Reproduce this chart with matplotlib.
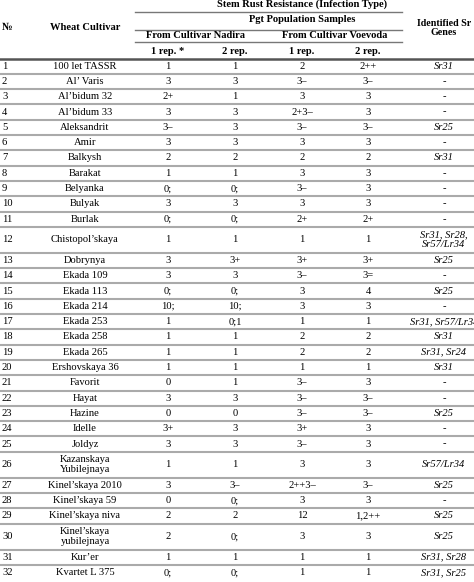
import matplotlib
matplotlib.use("Agg")
import matplotlib.pyplot as plt

nums = list(range(1, 33))
cultivars = ["100 let TASSR", "Al’ Varis", "Al’bidum 32", "Al’bidum 33", "Aleksandrit", "Amir",
             "Balkysh", "Barakat", "Belyanka", "Bulyak", "Burlak", "Chistopol’skaya", "Dobrynya",
             "Ekada 109", "Ekada 113", "Ekada 214", "Ekada 253", "Ekada 258", "Ekada 265",
             "Ershovskaya 36", "Favorit", "Hayat", "Hazine", "Idelle", "Joldyz",
             "Kazanskaya\nYubilejnaya", "Kinel’skaya 2010", "Kinel’skaya 59", "Kinel’skaya niva",
             "Kinel’skaya\nyubilejnaya", "Kur’er", "Kvartet L 375"]
nadira1 = ["1", "3", "2+", "3", "3–", "3", "2", "1", "0;", "3", "0;", "1", "3", "3", "0;", "10;",
           "1", "1", "1", "1", "0", "3", "0", "3+", "3", "1", "3", "0", "2", "2", "1", "0;"]
nadira2 = ["1", "3", "1", "3", "3", "3", "2", "1", "0;", "3", "0;", "1", "3+", "3", "0;", "10;",
           "0;1", "1", "1", "1", "1", "3", "0", "3", "3", "1", "3–", "0;", "2", "0;", "1", "0;"]
voev1 = ["2", "3–", "3", "2+3–", "3–", "3", "2", "3", "3–", "3", "2+", "1", "3+", "3–", "3", "3",
         "1", "2", "2", "1", "3–", "3–", "3–", "3+", "3–", "3", "2++3–", "3", "12", "3", "1", "1"]
voev2 = ["2++", "3–", "3", "3", "3–", "3", "2", "3", "3", "3", "2+", "1", "3+", "3=", "4", "3",
         "1", "2", "2", "1", "3", "3–", "3–", "3", "3", "3", "3–", "3", "1,2++", "3", "1", "1"]
genes = ["Sr31", "-", "-", "-", "Sr25", "-", "Sr31", "-", "-", "-", "-", "Sr31, Sr28,\nSr57/Lr34",
         "Sr25", "-", "Sr25", "-", "Sr31, Sr57/Lr34", "Sr31", "Sr31, Sr24", "Sr31", "-", "-",
         "Sr25", "-", "-", "Sr57/Lr34", "Sr25", "-", "Sr25", "Sr25", "Sr31, Sr28", "Sr31, Sr25"]

W, H = 474, 582
fig = plt.figure(figsize=(W / 100, H / 100), dpi=100)
ax = fig.add_axes([0, 0, 1, 1])
ax.set_xlim(0, W)
ax.set_ylim(H, 0)
ax.axis("off")

fam = ["Liberation Serif", "DejaVu Serif"]
fs = 7.6
xc = [5, 85, 168, 235, 302, 368, 444]

def t(x, y, s, ha="center", bold=False, italic=False, size=fs):
    ax.text(x, y, s, ha=ha, va="center", family=fam, fontsize=size,
            fontweight="bold" if bold else "normal",
            fontstyle="italic" if italic else "normal", linespacing=1.1)

# header
t(302, 4, "Stem Rust Resistance (Infection Type)", bold=True)
ax.plot([135, 402], [12, 12], color="#777", lw=1)
t(302, 19, "Pgt Population Samples", bold=True)
ax.plot([135, 402], [30, 30], color="#777", lw=1)
t(196, 35, "From Cultivar Nadira", bold=True)
t(335, 35, "From Cultivar Voevoda", bold=True)
ax.plot([135, 402], [42, 42], color="#777", lw=1)
for x, s in zip(xc[2:6], ["1 rep. *", "2 rep.", "1 rep.", "2 rep."]):
    t(x, 51, s, bold=True)
t(2, 28, "№", ha="left", bold=True)
t(85, 28, "Wheat Cultivar", bold=True)
t(444, 28, "Identified Sr\nGenes", bold=True, size=7.2)
ax.plot([0, W], [58.5, 58.5], color="#555", lw=1.8)

h = 15.3
y = 58.5
for i in range(32):
    dbl = "\n" in cultivars[i] or "\n" in genes[i]
    rh = 1.7 * h if dbl else h
    cy = y + rh / 2
    t(2, cy, str(nums[i]), ha="left")
    t(xc[1], cy, cultivars[i])
    for x, s in zip(xc[2:6], [nadira1[i], nadira2[i], voev1[i], voev2[i]]):
        t(x, cy, s)
    t(xc[6], cy, genes[i], italic=genes[i] != "-")
    y += rh
    if i < 31:
        ax.plot([0, W], [y, y], color="#aaa", lw=1.5)

fig.savefig("out.png", dpi=100, facecolor="white")
